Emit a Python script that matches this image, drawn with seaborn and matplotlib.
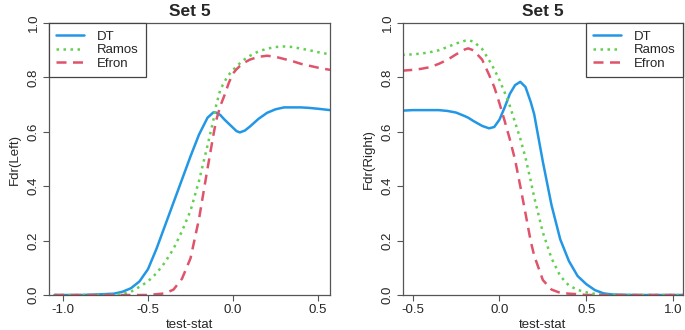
import matplotlib.pyplot as plt
import seaborn as sns
import pandas as pd

# ---- data ----
left_x = [-1.05, -0.9, -0.8, -0.7, -0.65, -0.6, -0.55, -0.5, -0.45, -0.4, -0.35, -0.3,
          -0.25, -0.2, -0.15, -0.115, -0.1, -0.075, -0.05, -0.025, 0.0, 0.02, 0.04, 0.07,
          0.1, 0.15, 0.2, 0.25, 0.3, 0.35, 0.4, 0.45, 0.5, 0.57]
left_dt = [0.0, 0.0, 0.002, 0.005, 0.012, 0.025, 0.05, 0.095, 0.17, 0.255, 0.34, 0.425,
           0.51, 0.59, 0.652, 0.672, 0.671, 0.662, 0.645, 0.63, 0.615, 0.603, 0.598, 0.605,
           0.62, 0.648, 0.67, 0.683, 0.69, 0.69, 0.69, 0.688, 0.685, 0.68]
left_ramos = [0.0, 0.0, 0.0, 0.001, 0.004, 0.012, 0.03, 0.05, 0.08, 0.12, 0.17, 0.235,
              0.31, 0.42, 0.55, 0.645, 0.695, 0.755, 0.785, 0.81, 0.828, 0.84, 0.852, 0.868,
              0.88, 0.896, 0.906, 0.912, 0.914, 0.912, 0.906, 0.90, 0.893, 0.885]
left_efron = [0.0, 0.0, 0.0, 0.0, 0.0, 0.0, 0.0, 0.0, 0.003, 0.006, 0.02, 0.06,
              0.135, 0.28, 0.465, 0.59, 0.64, 0.695, 0.735, 0.78, 0.815, 0.83, 0.842, 0.856,
              0.866, 0.876, 0.88, 0.876, 0.868, 0.86, 0.85, 0.843, 0.836, 0.828]

right_x = [-0.56, -0.5, -0.45, -0.4, -0.35, -0.3, -0.25, -0.2, -0.18, -0.15, -0.1, -0.06,
           -0.03, 0.0, 0.03, 0.06, 0.09, 0.12, 0.15, 0.18, 0.2, 0.25, 0.3, 0.35, 0.4, 0.45,
           0.5, 0.55, 0.6, 0.65, 0.7, 0.8, 0.9, 1.06]
right_dt = [0.678, 0.68, 0.68, 0.68, 0.68, 0.677, 0.671, 0.658, 0.652, 0.64, 0.622, 0.613,
            0.618, 0.645, 0.69, 0.74, 0.772, 0.784, 0.765, 0.71, 0.665, 0.49, 0.33, 0.205, 0.125, 0.07,
            0.04, 0.018, 0.006, 0.002, 0.001, 0.0, 0.0, 0.0]
right_ramos = [0.883, 0.885, 0.888, 0.893, 0.90, 0.912, 0.925, 0.935, 0.937, 0.932, 0.905, 0.864,
               0.83, 0.79, 0.745, 0.695, 0.635, 0.575, 0.505, 0.42, 0.36, 0.23, 0.135, 0.07, 0.035, 0.019,
               0.01, 0.004, 0.001, 0.0, 0.0, 0.0, 0.0, 0.0]
right_efron = [0.825, 0.828, 0.832, 0.838, 0.85, 0.865, 0.885, 0.903, 0.907, 0.90, 0.866, 0.81,
               0.765, 0.705, 0.64, 0.572, 0.497, 0.40, 0.30, 0.198, 0.145, 0.055, 0.02, 0.008, 0.005, 0.003,
               0.0, 0.0, 0.0, 0.0, 0.0, 0.0, 0.0, 0.0]

methods = ["DT", "Ramos", "Efron"]
colors = {"DT": "#2297E6", "Ramos": "#61D04F", "Efron": "#DF536B"}
dashes = {"DT": "", "Ramos": (1.0, 1.8), "Efron": (4, 2.6)}


def long_df(x, dt, ramos, efron):
    rows = []
    for name, ys in zip(methods, [dt, ramos, efron]):
        for xv, yv in zip(x, ys):
            rows.append({"x": xv, "y": yv, "method": name})
    return pd.DataFrame(rows)


df_left = long_df(left_x, left_dt, left_ramos, left_efron)
df_right = long_df(right_x, right_dt, right_ramos, right_efron)

sns.set_theme(style="ticks")
plt.rcParams["font.family"] = ["Liberation Sans", "DejaVu Sans"]

fig = plt.figure(figsize=(6.85, 3.30), dpi=100)
ax1 = fig.add_axes([0.0715, 0.106, 0.4105, 0.824])
ax2 = fig.add_axes([0.588, 0.106, 0.409, 0.824])

panels = [
    (ax1, df_left, (-1.082, 0.571), [-1.0, -0.5, 0.0, 0.5], "Fdr(Left)", "upper left"),
    (ax2, df_right, (-0.557, 1.057), [-0.5, 0.0, 0.5, 1.0], "Fdr(Right)", "upper right"),
]

for ax, df, xlim, xticks, ylab, loc in panels:
    sns.lineplot(data=df, x="x", y="y", hue="method", style="method",
                 palette=colors, dashes=dashes, hue_order=methods, style_order=methods,
                 linewidth=1.8, ax=ax, sort=False)
    ax.set_xlim(*xlim)
    ax.set_ylim(0, 1.0)
    ax.set_xticks(xticks)
    ax.set_xticklabels([f"{t:.1f}" for t in xticks])
    ax.set_yticks([0.0, 0.2, 0.4, 0.6, 0.8, 1.0])
    ax.set_yticklabels(["0.0", "0.2", "0.4", "0.6", "0.8", "1.0"], rotation=90, va="center")
    ax.tick_params(labelsize=9.5, length=4.5, width=0.8, color="#555555", pad=2)
    for s in ax.spines.values():
        s.set_visible(True)
        s.set_color("#555555")
        s.set_linewidth(0.9)
    ax.set_title("Set 5", fontsize=12.5, fontweight="bold", pad=5)
    ax.set_xlabel("test-stat", fontsize=9.5, va="baseline")
    ax.xaxis.set_label_coords(0.5, -0.12)
    ax.set_ylabel(ylab, fontsize=9.5, labelpad=5)
    leg = ax.legend(loc=loc, borderaxespad=0, fontsize=9.5, handlelength=2.1,
                    fancybox=False, framealpha=1, edgecolor="#444444",
                    labelspacing=0.1, borderpad=0.55, handletextpad=1.0)
    leg.get_frame().set_linewidth(0.9)
    for line in leg.get_lines():
        line.set_linewidth(1.8)

fig.savefig("out.png", dpi=100)
